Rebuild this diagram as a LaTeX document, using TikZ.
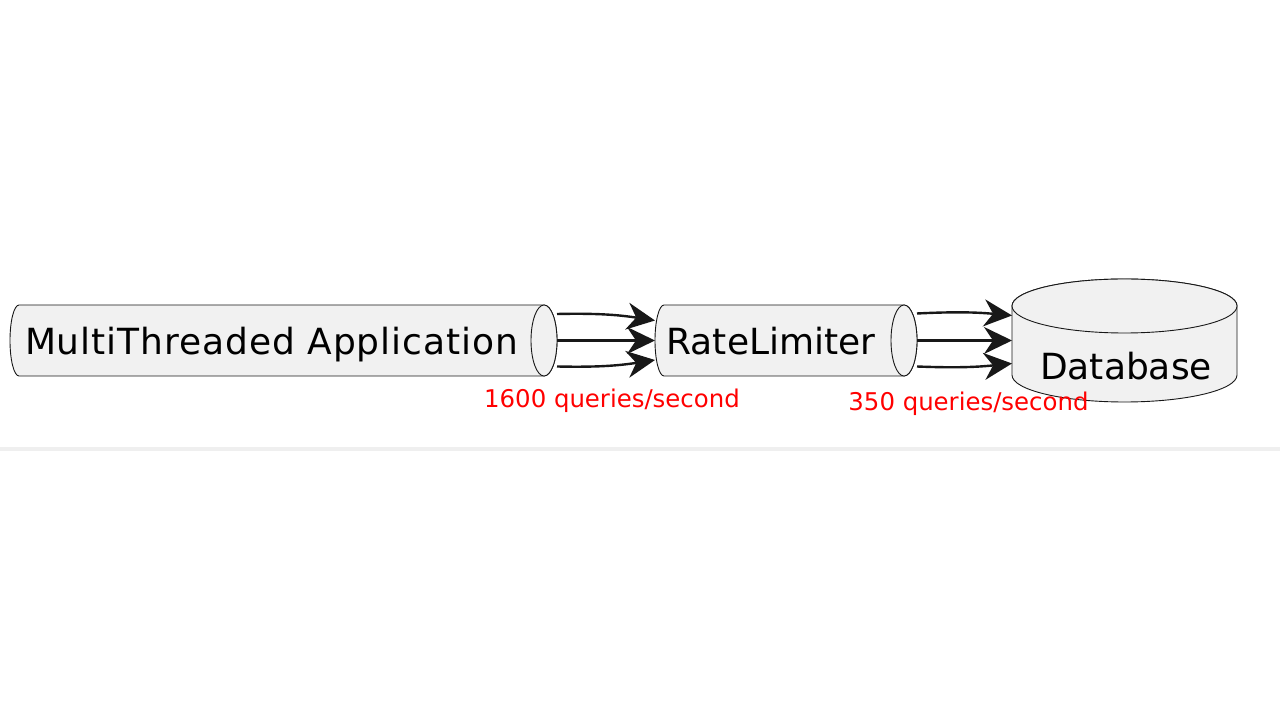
\documentclass[tikz,border=0pt]{standalone}
\usepackage{fontspec}
\setmainfont{DejaVu Sans}
\usepackage{xcolor}
\usetikzlibrary{arrows.meta}
\definecolor{hullfill}{HTML}{F1F1F1}
\definecolor{ink}{HTML}{181818}
\definecolor{qpsred}{HTML}{FF0000}
\definecolor{rulegray}{HTML}{EFEFEF}
\tikzset{
  hull/.style={draw=none, inner sep=0pt, outer sep=0pt},
  box/.style={draw=ink, fill=hullfill, line width=0.9pt, line join=round},
  flow/.style={draw=ink, line width=2.4pt, -{Stealth[length=28pt, width=27pt, inset=9pt]}},
  lbl/.style={text=black, font=\fontsize{36}{40}\selectfont, inner sep=0pt, text height=26pt, text depth=0pt},
  qps/.style={text=qpsred, font=\fontsize{24.4}{28}\selectfont, inner sep=0pt},
  sep/.style={draw=rulegray, line width=4.5pt},
}
\begin{document}
\begin{tikzpicture}[x=1pt, y=1pt]
  \useasboundingbox (0,0) rectangle (1280,720);
  % invisible hulls, one per shape
  \node[hull, minimum width=547pt, minimum height=71pt] (mta) at (283.5,379.5) {};
  \node[hull, minimum width=262pt, minimum height=71pt] (rl) at (786,379.5) {};
  \node[hull, minimum width=225pt, minimum height=123pt] (db) at (1124.5,379.5) {};
  % queue shapes
  \draw[box] ([xshift=9pt]mta.north west) -- ([xshift=-13pt]mta.north east)
    arc[start angle=90, end angle=-90, x radius=13, y radius=35.5]
    -- ([xshift=9pt]mta.south west)
    arc[start angle=270, end angle=90, x radius=9, y radius=35.5] -- cycle;
  \draw[box] ([xshift=-13pt]mta.east) ellipse[x radius=13, y radius=35.5];
  \draw[box] ([xshift=9pt]rl.north west) -- ([xshift=-13pt]rl.north east)
    arc[start angle=90, end angle=-90, x radius=13, y radius=35.5]
    -- ([xshift=9pt]rl.south west)
    arc[start angle=270, end angle=90, x radius=9, y radius=35.5] -- cycle;
  \draw[box] ([xshift=-13pt]rl.east) ellipse[x radius=13, y radius=35.5];
  % database
  \draw[box] ([yshift=-27pt]db.north west) -- ([yshift=27pt]db.south west)
    arc[start angle=180, end angle=360, x radius=112.5, y radius=27]
    -- ([yshift=-27pt]db.north east)
    arc[start angle=0, end angle=180, x radius=112.5, y radius=27] -- cycle;
  \draw[box] ([yshift=-27pt]db.north) ellipse[x radius=112.5, y radius=27];
  \node[lbl, font=\fontsize{36}{40}\selectfont\addfontfeature{LetterSpace=2.6}] (mta-txt) at (271.5,378.5) {MultiThreaded Application};
  \node[lbl] (rl-txt) at (771,378.5) {RateLimiter};
  \node[lbl] (db-txt) at (1126,353.5) {Database};
  % connectors
  \draw[flow] ([yshift=26.5pt]mta.east) to[bend left=5] ([yshift=20pt]rl.west);
  \draw[flow] (mta.east) -- (rl.west);
  \draw[flow] ([yshift=-26pt]mta.east) to[bend right=5] ([yshift=-19.5pt]rl.west);
  \draw[flow] ([yshift=27pt]rl.east) to[bend left=4] ([yshift=25pt]db.west);
  \draw[flow] (rl.east) -- (db.west);
  \draw[flow] ([yshift=-26pt]rl.east) to[bend right=4] ([yshift=-23pt]db.west);
  \node[qps] (q-in) at (612,319.5) {1600 queries/second};
  \node[qps] (q-out) at (968.5,316.5) {350 queries/second};
  \draw[sep] (0,271) -- (1280,271);
\end{tikzpicture}
\end{document}
